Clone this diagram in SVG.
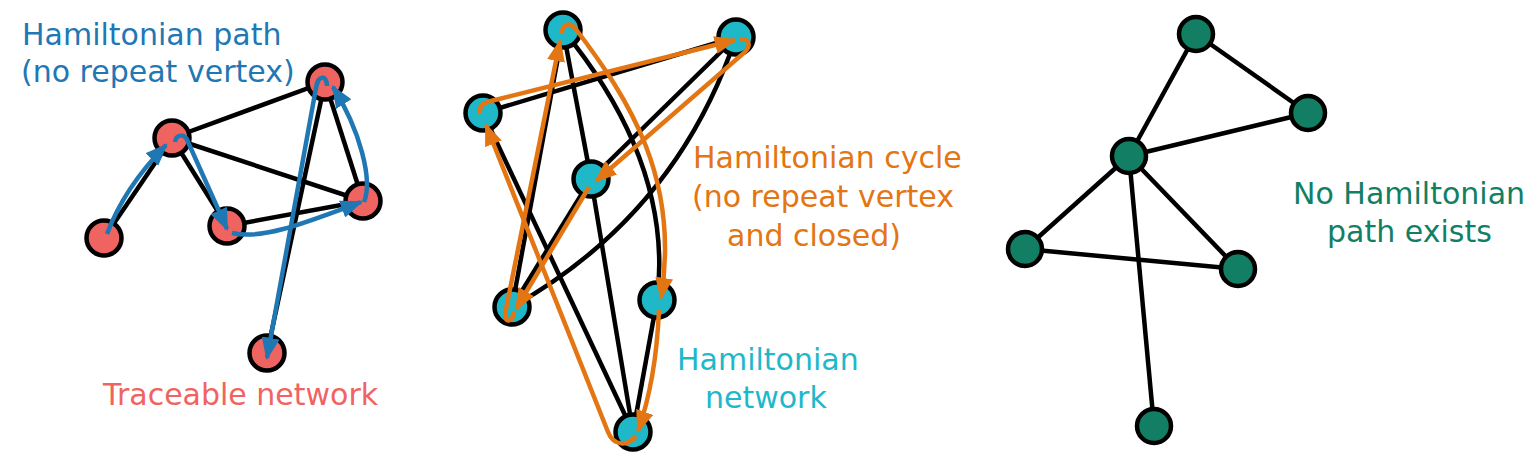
<svg xmlns="http://www.w3.org/2000/svg" width="1527" height="464" viewBox="0 0 1527 464">
<defs>
<style>
.edge{fill:none;stroke:#000;stroke-width:4.5}
.node{stroke:#000;stroke-width:4.5}
.red{fill:#EF6461}
.teal{fill:#1FB8C9}
.green{fill:#127E64}
.bp{fill:none;stroke:#1F77B4;stroke-width:4.5}
.op{fill:none;stroke:#E37512;stroke-width:4.5}
text{font-family:"DejaVu Sans","Liberation Sans",sans-serif;font-size:30px}
</style>
<marker id="ab" viewBox="0 0 20 16" refX="18" refY="8" markerWidth="5" markerHeight="4" orient="auto"><path d="M0,0 L20,8 L0,16 z" fill="#1F77B4"/></marker>
<marker id="ao" viewBox="0 0 20 16" refX="18" refY="8" markerWidth="5" markerHeight="4" orient="auto"><path d="M0,0 L20,8 L0,16 z" fill="#E37512"/></marker>
</defs>
<rect width="1527" height="464" fill="#fff"/>

<g id="edges">
<line class="edge" x1="104" y1="238" x2="172" y2="138"/>
<line class="edge" x1="172" y1="138" x2="325" y2="82"/>
<line class="edge" x1="172" y1="138" x2="227" y2="226"/>
<line class="edge" x1="172" y1="138" x2="363" y2="201"/>
<line class="edge" x1="227" y1="226" x2="363" y2="201"/>
<line class="edge" x1="325" y1="82" x2="363" y2="201"/>
<line class="edge" x1="325" y1="82" x2="267" y2="353"/>
<line class="edge" x1="483" y1="113" x2="736" y2="37"/>
<line class="edge" x1="563" y1="30" x2="512" y2="307"/>
<line class="edge" x1="563" y1="30" x2="591" y2="179"/>
<path class="edge" d="M563,30 Q674,165 657,300"/>
<line class="edge" x1="736" y1="37" x2="591" y2="179"/>
<path class="edge" d="M736,37 Q676,215 512,307"/>
<line class="edge" x1="591" y1="179" x2="512" y2="307"/>
<line class="edge" x1="591" y1="179" x2="633" y2="432"/>
<line class="edge" x1="483" y1="113" x2="633" y2="432"/>
<line class="edge" x1="657" y1="300" x2="633" y2="432"/>
<line class="edge" x1="1196" y1="34" x2="1308" y2="113"/>
<line class="edge" x1="1196" y1="34" x2="1129" y2="156"/>
<line class="edge" x1="1129" y1="156" x2="1308" y2="113"/>
<line class="edge" x1="1129" y1="156" x2="1025" y2="249"/>
<line class="edge" x1="1129" y1="156" x2="1238" y2="269"/>
<line class="edge" x1="1129" y1="156" x2="1154" y2="426"/>
<line class="edge" x1="1025" y1="249" x2="1238" y2="269"/>
</g>

<g id="nodes-left">
<g id="L1"><circle class="node red" cx="104" cy="238" r="17.5"/></g>
<g id="L2"><circle class="node red" cx="172" cy="138" r="17.5"/></g>
<g id="L3"><circle class="node red" cx="227" cy="226" r="17.5"/></g>
<g id="L4"><circle class="node red" cx="325" cy="82" r="17.5"/></g>
<g id="L5"><circle class="node red" cx="363" cy="201" r="17.5"/></g>
<g id="L6"><circle class="node red" cx="267" cy="353" r="17.5"/></g>
</g>
<g id="nodes-middle">
<g id="M1"><circle class="node teal" cx="563" cy="30" r="17.5"/></g>
<g id="M2"><circle class="node teal" cx="736" cy="37" r="17.5"/></g>
<g id="M3"><circle class="node teal" cx="483" cy="113" r="17.5"/></g>
<g id="M4"><circle class="node teal" cx="591" cy="179" r="17.5"/></g>
<g id="M5"><circle class="node teal" cx="512" cy="307" r="17.5"/></g>
<g id="M6"><circle class="node teal" cx="657" cy="300" r="17.5"/></g>
<g id="M7"><circle class="node teal" cx="633" cy="432" r="17.5"/></g>
</g>
<g id="nodes-right">
<g id="R1"><circle class="node green" cx="1196" cy="34" r="17"/></g>
<g id="R2"><circle class="node green" cx="1308" cy="113" r="17"/></g>
<g id="R3"><circle class="node green" cx="1129" cy="156" r="17"/></g>
<g id="R4"><circle class="node green" cx="1025" cy="249" r="17"/></g>
<g id="R5"><circle class="node green" cx="1238" cy="269" r="17"/></g>
<g id="R6"><circle class="node green" cx="1154" cy="426" r="17"/></g>
</g>

<g id="path-arrows">
<path class="bp" marker-end="url(#ab)" d="M107,234 Q124,188 166,145"/>
<path class="bp" marker-end="url(#ab)" d="M175,142 C176,134 185,133 188,142 L227,229"/>
<path class="bp" marker-end="url(#ab)" d="M232,233 C262,240 302,224 361,202"/>
<path class="bp" marker-end="url(#ab)" d="M364,202 C373,180 360,130 333,87"/>
<path class="bp" marker-end="url(#ab)" d="M327,86 C327,75 318,74 316,88 L267,358"/>
</g>
<g id="cycle-arrows">
<path class="op" marker-end="url(#ao)" d="M480,114 C478,105 485,102 495,100 L735,40"/>
<path class="op" marker-end="url(#ao)" d="M740,40 C748,38 752,44 745,52 L596,181"/>
<path class="op" marker-end="url(#ao)" d="M589,187 L516,309"/>
<path class="op" marker-end="url(#ao)" d="M514,311 C513,322 505,324 505,314 L560,41"/>
<path class="op" marker-end="url(#ao)" d="M562,33 C562,24 570,22 575,28 C630,100 680,180 661,298"/>
<path class="op" marker-end="url(#ao)" d="M659,310 Q656,380 638,431"/>
<path class="op" marker-end="url(#ao)" d="M636,436 C628,446 614,447 608,432 L486,125"/>
</g>

<g id="labels">
<text x="22" y="45" fill="#1F77B4">Hamiltonian path</text>
<text x="21" y="82" fill="#1F77B4">(no repeat vertex)</text>
<text x="103" y="405" fill="#EF6461">Traceable network</text>
<text x="693" y="168" fill="#E37512">Hamiltonian cycle</text>
<text x="692" y="207" fill="#E37512">(no repeat vertex</text>
<text x="727" y="246" fill="#E37512">and closed)</text>
<text x="677" y="370" fill="#1FB8C9">Hamiltonian</text>
<text x="705" y="408" fill="#1FB8C9">network</text>
<text x="1293" y="204" fill="#127E64">No Hamiltonian</text>
<text x="1327" y="242" fill="#127E64">path exists</text>
</g>
</svg>
